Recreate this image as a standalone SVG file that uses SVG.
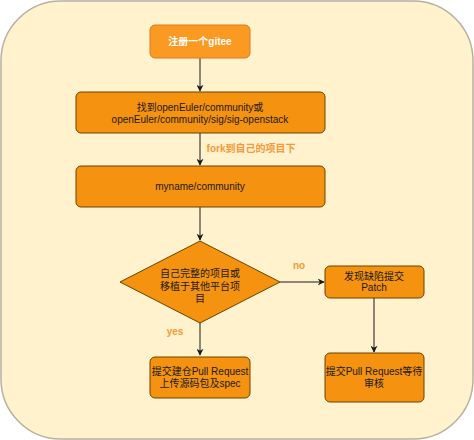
<svg xmlns="http://www.w3.org/2000/svg" width="474" height="440" viewBox="0 0 474 440">
<style>
text{font-family:"Liberation Sans","Noto Sans CJK SC",sans-serif;font-size:10px;text-anchor:middle;}
.box{fill:#F5920F;stroke:#6B4300;stroke-width:1;}
.top{fill:#FA9A22;stroke:#D97B1C;stroke-width:1;}
.t{fill:#1a1a1a;}
.w{fill:#ffffff;font-weight:bold;}
.lbl{fill:#F5993A;font-weight:bold;}
.edge{stroke:#1a1a1a;stroke-width:1;fill:none;marker-end:url(#arr);}
</style>
<defs>
<marker id="arr" viewBox="0 0 10 10" refX="9" refY="5" markerWidth="7" markerHeight="7" orient="auto" markerUnits="userSpaceOnUse">
<path d="M0,0 L10,5 L0,10 L3,5 Z" fill="#1a1a1a"/>
</marker>
</defs>
<rect x="1" y="1" width="472" height="438" rx="60" ry="60" fill="#FFF2CC" stroke="#B8B0A0" stroke-width="1.5"/>
<g id="connectors">
<path class="edge" d="M200,58 L200,91"/>
<path class="edge" d="M200,133 L200,165"/>
<path class="edge" d="M200,207 L200,240"/>
<path class="edge" d="M280,282 L324,282"/>
<path class="edge" d="M200,323 L200,355"/>
<path class="edge" d="M374,298 L374,352"/>
<text class="lbl" x="251" y="152">fork到自己的项目下</text>
<text class="lbl" x="299" y="269">no</text>
<text class="lbl" x="175" y="335">yes</text>
</g>
<g id="n1">
<rect class="top" x="150" y="25" width="100" height="33" rx="5"/>
<text class="w" x="200" y="45">注册一个gitee</text>
</g>
<g id="n2">
<rect class="box" x="76" y="92" width="249" height="41" rx="5"/>
<text class="t" x="200" y="111">找到openEuler/community或</text>
<text class="t" x="200" y="123">openEuler/community/sig/sig-openstack</text>
</g>
<g id="n3">
<rect class="box" x="76" y="166" width="249" height="41" rx="5"/>
<text class="t" x="200" y="190">myname/community</text>
</g>
<g id="n4">
<path class="box" d="M200,241 L280,282 L200,323 L120,282 Z"/>
<text class="t" x="200" y="277">自己完整的项目或</text>
<text class="t" x="200" y="290">移植于其他平台项</text>
<text class="t" x="200" y="302">目</text>
</g>
<g id="n5">
<rect class="box" x="325" y="266" width="99" height="32" rx="5"/>
<text class="t" x="374" y="280">发现缺陷提交</text>
<text class="t" x="374" y="291">Patch</text>
</g>
<g id="n6">
<rect class="box" x="150" y="357" width="100" height="41" rx="5"/>
<text class="t" x="200" y="375">提交建仓Pull Request</text>
<text class="t" x="200" y="387">上传源码包及spec</text>
</g>
<g id="n7">
<rect class="box" x="325" y="353" width="99" height="49" rx="5"/>
<text class="t" x="374" y="375">提交Pull Request等待</text>
<text class="t" x="374" y="387">审核</text>
</g>
</svg>
